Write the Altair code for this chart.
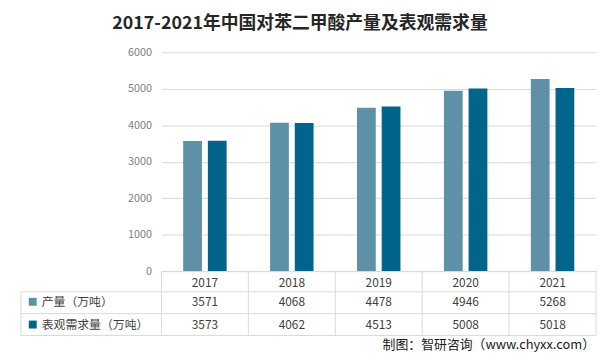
import altair as alt
import pandas as pd

years = ["2017", "2018", "2019", "2020", "2021"]
production = [3571, 4068, 4478, 4946, 5268]
demand = [3573, 4062, 4513, 5008, 5018]
series_names = ["产量（万吨）", "表观需求量（万吨）"]
colors = ["#5e91a8", "#01648a"]
title_text = "2017-2021年中国对苯二甲酸产量及表观需求量"
credit_text = "制图：智研咨询（www.chyxx.com）"

rows = []
for i, y in enumerate(years):
    rows.append({"year": y, "series": series_names[0], "value": production[i], "order": 0})
    rows.append({"year": y, "series": series_names[1], "value": demand[i], "order": 1})
df = pd.DataFrame(rows)
legend_df = pd.DataFrame({"series": series_names, "order": [0, 1]})
year_df = pd.DataFrame({"year": years})

FONT = "Noto Sans CJK SC"
W, H = 439, 221
LINE = "#d9d9d9"
TXT = "#404040"

xscale = alt.Scale(domain=years, paddingInner=0, paddingOuter=0)
cscale = alt.Scale(domain=series_names, range=colors)
rowscale = alt.Scale(domain=[0, 1], range=[H + 31, H + 54])

bars = alt.Chart(df).mark_bar().encode(
    x=alt.X("year:N", scale=xscale, sort=years,
            axis=alt.Axis(title=None, ticks=False, labels=False,
                          domainColor=LINE, grid=False)),
    xOffset=alt.XOffset("series:N", sort=series_names,
                        scale=alt.Scale(paddingInner=0.24, paddingOuter=0.88)),
    y=alt.Y("value:Q", scale=alt.Scale(domain=[0, 6000], nice=False),
            axis=alt.Axis(title=None, values=[0, 1000, 2000, 3000, 4000, 5000, 6000],
                          format="d", ticks=False, domain=False, gridColor=LINE,
                          labelColor="#7f7f7f", labelFontSize=11, labelFont=FONT,
                          labelPadding=10)),
    color=alt.Color("series:N", scale=cscale, legend=None),
)

year_txt = alt.Chart(year_df).mark_text(
    fontSize=12, font=FONT, color=TXT, baseline="middle").encode(
    x=alt.X("year:N", scale=xscale, sort=years), y=alt.value(H + 12), text="year:N")

# table vertical lines at band starts
vlines = alt.Chart(year_df).mark_rule(color=LINE, strokeWidth=1).encode(
    x=alt.X("year:N", scale=xscale, sort=years, bandPosition=0),
    y=alt.value(H), y2=alt.value(H + 65),
)
right_line = alt.Chart(year_df.head(1)).mark_rule(color=LINE).encode(
    x=alt.value(W), y=alt.value(H), y2=alt.value(H + 65))
left_line = alt.Chart(year_df.head(1)).mark_rule(color=LINE).encode(
    x=alt.value(-142), y=alt.value(H + 21), y2=alt.value(H + 65))
hlines = alt.Chart(pd.DataFrame({"r": [0, 1, 2]})).mark_rule(color=LINE).encode(
    x=alt.value(-142), x2=alt.value(W),
    y=alt.Y("r:Q", scale=alt.Scale(domain=[0, 2], range=[H + 21, H + 65]), axis=None),
)

vals0 = alt.Chart(df).transform_filter("datum.order == 0").mark_text(
    fontSize=12, font=FONT, color=TXT, baseline="middle").encode(
    x=alt.X("year:N", scale=xscale, sort=years), y=alt.value(H + 31), text="value:Q")
vals1 = alt.Chart(df).transform_filter("datum.order == 1").mark_text(
    fontSize=12, font=FONT, color=TXT, baseline="middle").encode(
    x=alt.X("year:N", scale=xscale, sort=years), y=alt.value(H + 54), text="value:Q")

leg_sq = alt.Chart(legend_df).mark_square(size=64, opacity=1).encode(
    x=alt.value(-130),
    y=alt.Y("order:Q", scale=rowscale, axis=None),
    color=alt.Color("series:N", scale=cscale, legend=None),
)
leg_txt = alt.Chart(legend_df).mark_text(
    fontSize=12, font=FONT, color=TXT, align="left", baseline="middle").encode(
    x=alt.value(-121),
    y=alt.Y("order:Q", scale=rowscale, axis=None),
    text="series:N",
)

title = alt.Chart(year_df.head(1)).mark_text(
    fontSize=18, font=FONT, fontWeight="bold", color="#262626", baseline="middle").encode(
    x=alt.value(140), y=alt.value(-29), text=alt.value(title_text))
credit = alt.Chart(year_df.head(1)).mark_text(
    fontSize=13, font=FONT, color="#1a1a1a", align="right", baseline="middle").encode(
    x=alt.value(438), y=alt.value(296), text=alt.value(credit_text))

chart = alt.layer(
    bars, year_txt, vlines, right_line, left_line, hlines, vals0, vals1, leg_sq, leg_txt,
    title, credit
).resolve_scale(y="independent").properties(
    width=W, height=H,
    autosize=alt.AutoSizeParams(type="none"),
    padding={"left": 155, "top": 43, "right": 2, "bottom": 84},
    background="white",
).configure_view(stroke=None)

chart.save("out.html", embed_options={"renderer": "svg", "actions": False})
